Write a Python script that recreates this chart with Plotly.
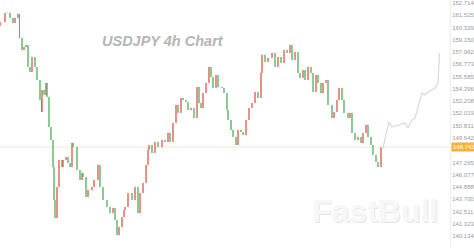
import plotly.graph_objects as go

# ---- data ----
bar_x = [0, 5, 7, 10, 13, 15, 18, 19.5, 22, 24, 26, 28, 30, 32, 35, 37, 40, 41.5, 42, 44, 46, 47, 49, 51, 53, 54,
         55, 57, 59, 62, 63, 66, 68, 70, 72, 73, 77, 80, 82, 83, 86, 88, 92, 94, 98, 100, 103, 107, 110, 113, 115,
         117, 119, 122, 124, 125, 128, 132, 135, 138, 140, 143, 146, 148, 149, 152, 155, 158, 162, 165, 168, 170,
         173, 176, 178, 181, 183, 186, 188, 191, 194, 197, 199, 201, 203, 206, 209, 211, 213, 216, 218, 222, 224,
         227, 228, 231, 233, 236, 238, 241, 243, 246, 249, 252, 255, 258, 261, 262, 265, 268, 272, 275, 278, 281,
         284, 287, 290, 292, 295, 298, 300, 303, 305, 308, 311, 313, 316, 318, 321, 323, 326, 328, 332, 334, 337,
         339, 342, 344, 348, 350, 352, 355, 358, 361, 363, 366, 368, 371, 373, 376, 378, 381]
close = [160.87, 161.74, 161.77, 161.26, 160.78, 161.26, 161.65, 159.32, 158.16, 158.45, 158.64, 156.51, 156.03,
         157.48, 156.51, 155.25, 153.31, 152.15, 154.28, 153.80, 154.96, 153.61, 150.70, 149.44, 146.82, 143.62,
         141.88, 144.88, 147.50, 146.82, 147.50, 147.79, 147.21, 146.82, 149.15, 148.76, 146.53, 145.56, 146.24,
         145.85, 143.91, 144.59, 144.88, 145.56, 147.02, 144.88, 143.62, 142.95, 142.36, 142.85, 141.69, 140.23,
         141.00, 141.97, 142.65, 142.95, 144.30, 143.62, 144.88, 142.36, 144.30, 145.27, 147.02, 148.47, 148.95,
         148.18, 149.25, 148.76, 149.44, 149.25, 150.12, 149.25, 151.09, 152.83, 152.06, 153.51, 153.31, 153.12,
         152.35, 152.54, 151.57, 154.57, 153.02, 152.54, 153.99, 154.96, 156.51, 155.54, 154.48, 155.74, 154.57,
         154.48, 153.99, 152.35, 151.38, 150.41, 149.73, 148.95, 150.41, 150.21, 149.92, 151.38, 152.54, 153.02,
         154.09, 153.51, 155.93, 157.68, 157.00, 157.39, 157.87, 156.51, 157.48, 156.90, 158.16, 157.87, 158.64,
         157.19, 157.97, 155.93, 155.45, 156.22, 155.25, 156.51, 155.93, 154.09, 155.74, 154.96, 153.99, 154.96,
         155.25, 152.83, 151.57, 152.15, 153.31, 154.48, 153.31, 152.06, 151.57, 152.06, 150.12, 149.44, 149.73,
         149.15, 150.12, 150.89, 149.73, 148.95, 147.99, 147.31, 146.82, 148.74]
first_open = 160.50

ext_x = [381, 383, 387, 389, 392, 398, 405, 408, 412, 415, 418, 422, 425, 428, 432, 435, 438, 439.5]
ext_y = [148.74, 148.66, 150.41, 151.18, 150.70, 150.89, 151.09, 150.60, 151.38, 151.57, 152.64, 153.99, 153.80,
         154.09, 154.28, 154.48, 154.96, 157.87]

# 148.453 sits under the current-price tag in the reference, so it is not drawn
tick_vals = [162.714, 161.525, 160.339, 159.150, 157.962, 156.773, 155.585, 154.396, 153.208, 152.019, 150.831,
             149.642, 147.265, 146.077, 144.888, 143.700, 142.511, 141.323, 140.134]
tick_text = ["%.3f" % v for v in tick_vals]
last_price = 148.742
title_text = "USDJPY 4h Chart"
watermark = "FastBull"

opens = [first_open] + close[:-1]
highs = [max(o, c) for o, c in zip(opens, close)]
lows = [min(o, c) for o, c in zip(opens, close)]

fig = go.Figure()
fig.add_trace(go.Candlestick(
    x=bar_x, open=opens, high=highs, low=lows, close=close,
    increasing=dict(line=dict(color="#e0574d", width=0.8), fillcolor="#e0574d"),
    decreasing=dict(line=dict(color="#4fb05a", width=0.8), fillcolor="#4fb05a"),
    whiskerwidth=0, showlegend=False, hoverinfo="skip"))
fig.add_trace(go.Scatter(x=ext_x, y=ext_y, mode="lines",
                         line=dict(color="#d9d9d9", width=1.2), showlegend=False, hoverinfo="skip"))

fig.add_shape(type="line", xref="paper", x0=0, x1=1, yref="y", y0=last_price, y1=last_price,
              line=dict(color="#fbe6cf", width=1), layer="below")

wm_y = 1 - 211 / 248
fig.add_annotation(x=375, y=wm_y, xref="x", yref="paper", yshift=-1, xshift=1,
                   xanchor="center", yanchor="middle",
                   text="<b>" + watermark + "</b>", showarrow=False,
                   font=dict(family="Liberation Sans, Arial", size=32, color="#e6e6e6"))
fig.add_annotation(x=375, y=wm_y, xref="x", yref="paper", xanchor="center", yanchor="middle",
                   text="<b>" + watermark + "</b>", showarrow=False,
                   font=dict(family="Liberation Sans, Arial", size=32, color="#f7f7f7"))

fig.add_annotation(x=100, y=1 - 41 / 248, xref="x", yref="paper", xanchor="left", yanchor="middle",
                   text="<b><i>" + title_text + "</i></b>", showarrow=False,
                   font=dict(family="Liberation Sans, Arial", size=14.5, color="#b5b5b5"))

fig.add_annotation(x=1, y=last_price, xref="paper", yref="y", xanchor="left", yanchor="middle",
                   xshift=1, text=str(last_price), showarrow=False, bgcolor="#f5b13c",
                   borderpad=1, font=dict(family="Liberation Sans, Arial", size=6, color="#ffffff"))

fig.update_layout(
    width=474, height=248, margin=dict(l=0, r=24, t=0, b=0),
    paper_bgcolor="white", plot_bgcolor="white", boxgap=0.75,
    xaxis=dict(range=[0, 450], visible=False, rangeslider=dict(visible=False), fixedrange=True),
    yaxis=dict(range=[138.97, 163.005], side="right", tickvals=tick_vals, ticktext=tick_text,
               showgrid=False, zeroline=False, showline=True, linecolor="#eeeeee", linewidth=1,
               ticks="", tickfont=dict(family="Liberation Sans, Arial", size=6, color="#9a9a9a")),
)

fig.write_html("out.html")
